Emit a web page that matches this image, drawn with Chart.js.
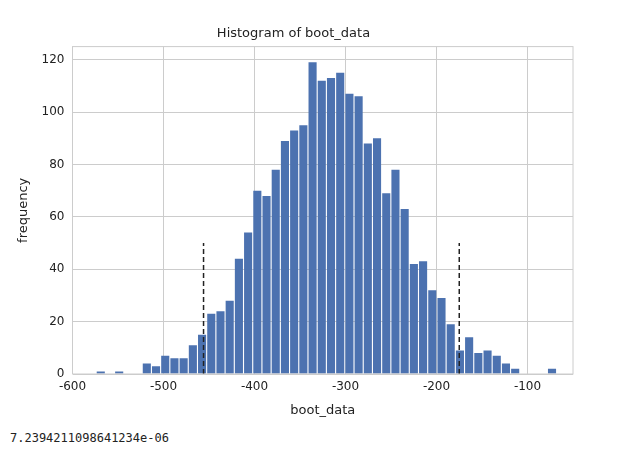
<!DOCTYPE html>
<html>
<head>
<meta charset="utf-8">
<script src="https://cdn.jsdelivr.net/npm/chart.js@4.4.0/dist/chart.umd.min.js"></script>
<style>
  body { margin: 0; background: #fff; }
  #wrap { position: relative; width: 632px; height: 451px; }
  #note { position: absolute; left: 10px; top: 431px; font-family: "DejaVu Sans Mono", monospace; font-size: 12px; color: #222; }
</style>
</head>
<body>
<div id="wrap">
  <div style="position:absolute;left:0;top:0;width:632px;height:420px"><canvas id="myChart"></canvas></div>
  <div id="note">7.2394211098641234e-06</div>
</div>
<script>
// histogram bins (left edge, width), counts
const binStart = -574;
const binWidth = 10.12;
const counts = [1, 0, 1, 0, 0, 4, 3, 7, 6, 6, 11, 15, 23, 24, 28, 44, 54, 70, 68, 78,
  89, 93, 95, 119, 112, 113, 115, 107, 106, 88, 90, 69, 78, 63, 42, 43, 32, 29, 19, 9,
  14, 8, 9, 7, 4, 2, 0, 0, 0, 2];
const ciLow = -456;
const ciHigh = -175;
const ciHeight = 50;
const xTicks = [-600, -500, -400, -300, -200, -100];
const yTicks = [0, 20, 40, 60, 80, 100, 120];

const histData = counts.map((c, i) => ({ x: binStart + binWidth * (i + 0.5), y: c }));

const frame = {
  id: "frame",
  afterDraw(chart) {
    const { ctx, chartArea: a } = chart;
    ctx.save();
    ctx.strokeStyle = "#cccccc";
    ctx.lineWidth = 1;
    ctx.strokeRect(a.left, a.top, a.right - a.left, a.bottom - a.top);
    ctx.restore();
  },
};

const font = { family: "DejaVu Sans", size: 12 };
const ctx = document.getElementById("myChart").getContext("2d");
new Chart(ctx, {
  data: {
    datasets: [
      {
        type: "bar",
        data: histData,
        backgroundColor: "#4c72b0",
        barPercentage: 0.88,
        categoryPercentage: 1,
        order: 2,
      },
      {
        type: "line",
        data: [{ x: ciLow, y: 0 }, { x: ciLow, y: ciHeight }],
        borderColor: "#222",
        borderWidth: 1.5,
        borderDash: [5, 3],
        pointRadius: 0,
        order: 1,
      },
      {
        type: "line",
        data: [{ x: ciHigh, y: 0 }, { x: ciHigh, y: ciHeight }],
        borderColor: "#222",
        borderWidth: 1.5,
        borderDash: [5, 3],
        pointRadius: 0,
        order: 1,
      },
    ],
  },
  options: {
    responsive: true,
    maintainAspectRatio: false,
    animation: false,
    layout: { padding: { top: 0, right: 59, left: 14 } },
    plugins: {
      legend: { display: false },
      tooltip: { enabled: false },
      title: { display: true, text: "Histogram of boot_data", color: "#222", font: { family: "DejaVu Sans", size: 13, weight: "normal" }, padding: { top: 26, bottom: 5 } },
    },
    scales: {
      x: {
        type: "linear",
        min: -600,
        max: -50,
        offset: false,
        afterBuildTicks: (s) => { s.ticks = xTicks.map((v) => ({ value: v })); },
        ticks: { color: "#222", font, maxRotation: 0, padding: 6 },
        grid: { color: "#cccccc", drawTicks: false, offset: false },
        border: { display: false },
        title: { display: true, text: "boot_data", color: "#222", font: { family: "DejaVu Sans", size: 13 }, padding: 2 },
      },
      y: {
        min: 0,
        max: 125,
        afterBuildTicks: (s) => { s.ticks = yTicks.map((v) => ({ value: v })); },
        ticks: { color: "#222", font, padding: 8 },
        grid: { color: "#cccccc", drawTicks: false },
        border: { display: false },
        title: { display: true, text: "frequency", color: "#222", font: { family: "DejaVu Sans", size: 13 }, padding: 2 },
      },
    },
  },
  plugins: [frame],
});
</script>
</body>
</html>
